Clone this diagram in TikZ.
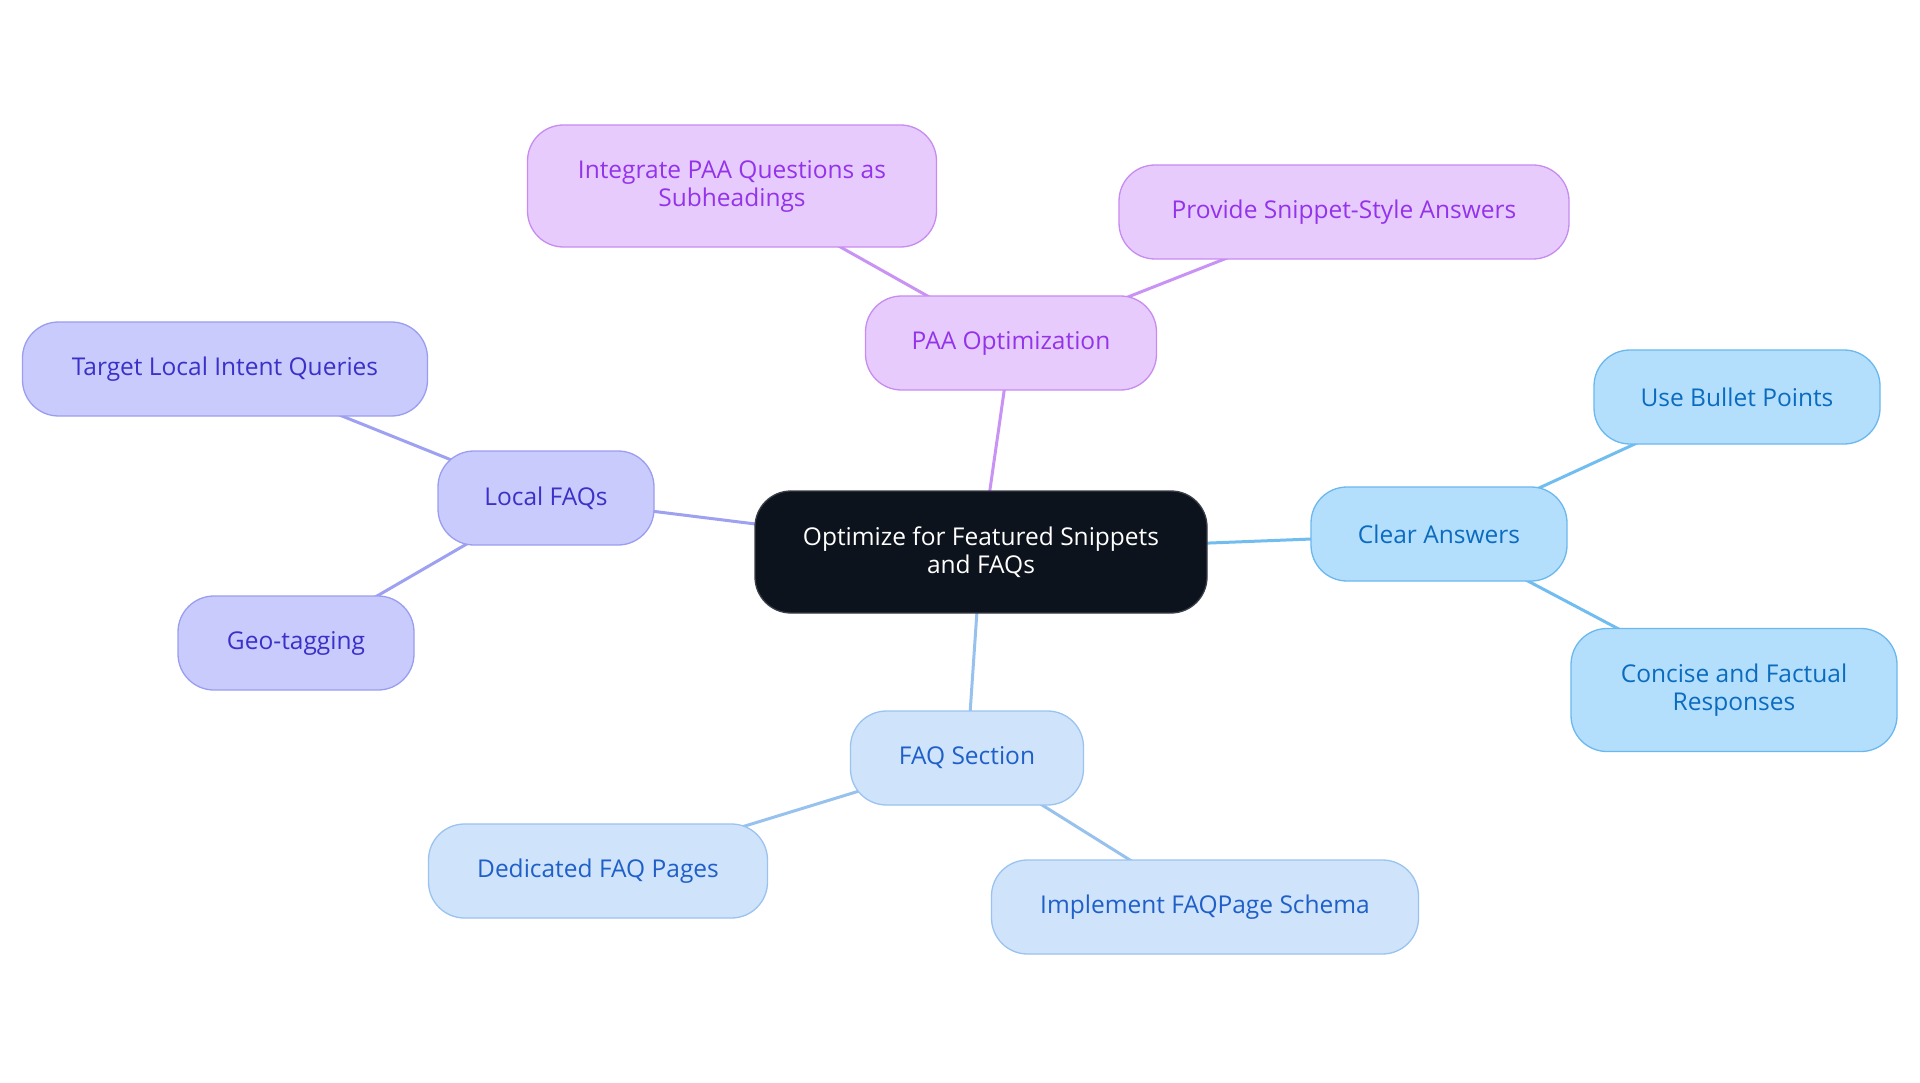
\documentclass[tikz,border=0pt]{standalone}
\usepackage{fontspec}
\setmainfont{Open Sans}
\usetikzlibrary{backgrounds}
\definecolor{cfill}{HTML}{0D131C}
\definecolor{cdraw}{HTML}{3A3F47}
\definecolor{pfill}{HTML}{E8CBFD}
\definecolor{pdraw}{HTML}{C88BF0}
\definecolor{ptext}{HTML}{9333EA}
\definecolor{pline}{HTML}{C993F5}
\definecolor{bfill}{HTML}{B3DFFD}
\definecolor{bdraw}{HTML}{6BB8EE}
\definecolor{btext}{HTML}{0B6BBF}
\definecolor{bline}{HTML}{72BDEF}
\definecolor{lfill}{HTML}{C9CBFC}
\definecolor{ldraw}{HTML}{9B9EF0}
\definecolor{ltext}{HTML}{3B30C8}
\definecolor{lline}{HTML}{9EA0F2}
\definecolor{ffill}{HTML}{CFE3FB}
\definecolor{fdraw}{HTML}{9BC3F0}
\definecolor{ftext}{HTML}{1F5FC8}
\definecolor{fline}{HTML}{98C2EE}
\begin{document}
\begin{tikzpicture}[x=1pt,y=-1pt,
  box/.style={rectangle, rounded corners=36pt, line width=1.3pt, align=center,
    font=\fontsize{24.5}{28}\selectfont, inner sep=0pt, minimum height=94pt},
  centerbox/.style={box, fill=cfill, draw=cdraw, text=white, minimum height=122pt},
  pbox/.style={box, fill=pfill, draw=pdraw, text=ptext},
  bbox/.style={box, fill=bfill, draw=bdraw, text=btext},
  lbox/.style={box, fill=lfill, draw=ldraw, text=ltext},
  fbox/.style={box, fill=ffill, draw=fdraw, text=ftext},
  edge/.style={line width=3pt}
]
\useasboundingbox (0,0) rectangle (1920,1083);

% nodes
\node[centerbox, minimum width=452pt] (c) at (981,552) {Optimize for Featured Snippets\\and FAQs};

\node[pbox, minimum width=291pt] (paa) at (1011,343) {PAA Optimization};
\node[pbox, minimum width=409pt, minimum height=122pt] (int) at (732,186) {Integrate PAA Questions as\\Subheadings};
\node[pbox, minimum width=450pt] (snip) at (1344,212) {Provide Snippet-Style Answers};

\node[lbox, minimum width=216pt] (loc) at (546,498) {Local FAQs};
\node[lbox, minimum width=405pt] (tgt) at (225,369) {Target Local Intent Queries};
\node[lbox, minimum width=236pt] (geo) at (296,643) {Geo-tagging};

\node[bbox, minimum width=256pt] (clr) at (1439,534) {Clear Answers};
\node[bbox, minimum width=286pt] (bul) at (1737,397) {Use Bullet Points};
\node[bbox, minimum width=326pt, minimum height=123pt] (con) at (1734,690) {Concise and Factual\\Responses};

\node[fbox, minimum width=233pt] (faq) at (967,758) {FAQ Section};
\node[fbox, minimum width=339pt] (ded) at (598,871) {Dedicated FAQ Pages};
\node[fbox, minimum width=427pt] (imp) at (1205,907) {Implement FAQPage Schema};

% edges
\begin{scope}[on background layer]
\fill[white] (0,0) rectangle (1920,1083);
\draw[edge, pline] (c.center) -- (paa.center);
\draw[edge, pline] (paa.center) -- (int.center);
\draw[edge, pline] (paa.center) -- (snip.center);
\draw[edge, lline] (c.center) -- (loc.center);
\draw[edge, lline] (loc.center) -- (tgt.center);
\draw[edge, lline] (loc.center) -- (geo.center);
\draw[edge, bline] (c.center) -- (clr.center);
\draw[edge, bline] (clr.center) -- (bul.center);
\draw[edge, bline] (clr.center) -- (con.center);
\draw[edge, fline] (c.center) -- (faq.center);
\draw[edge, fline] (faq.center) -- (ded.center);
\draw[edge, fline] (faq.center) -- (imp.center);
\end{scope}
\end{tikzpicture}
\end{document}
